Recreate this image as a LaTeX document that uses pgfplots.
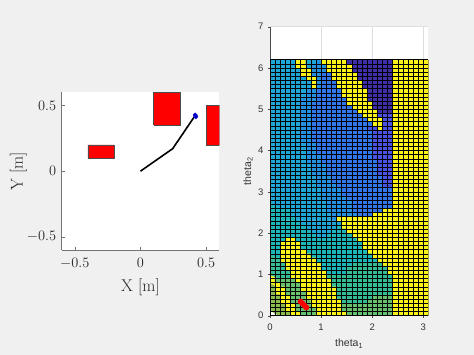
\documentclass[border=0pt]{standalone}
\usepackage{pgfplots}
\pgfplotsset{compat=1.18}
\usepackage{fontspec}
\newfontfamily\arialf{Liberation Sans}
\definecolor{figbg}{RGB}{240,240,240}
\begin{document}
\begin{tikzpicture}[x=1pt,y=1pt]
\fill[figbg] (0,0) rectangle (474,355);
% ---------------- workspace ----------------
\begin{axis}[at={(61.7pt,105pt)}, anchor=south west, scale only axis,
  width=157.6pt, height=157.7pt,
  xmin=-0.6, xmax=0.6, ymin=-0.6, ymax=0.6,
  axis x line*=bottom, axis y line*=left,
  axis line style={-, black!55},
  every outer x axis line/.append style={-},
  every outer y axis line/.append style={-},
  xtick={-0.5,0,0.5}, ytick={-0.5,0,0.5},
  tick align=inside, major tick length=3pt, tick style={black!55},
  axis background/.style={fill=white},
  tick label style={font=\fontsize{14.5}{17}\selectfont, text=black!85},
  xticklabel style={yshift=-5pt}, yticklabel style={xshift=-2pt},
  xlabel={X [m]}, ylabel={Y [m]},
  label style={font=\fontsize{17}{20}\selectfont, text=black!85},
  xlabel style={at={([yshift=-42pt]axis description cs:0.5,0)}, anchor=base},
  ylabel style={at={([xshift=-39pt]axis description cs:0,0.5)}, anchor=base},
]
\addplot[fill=red, draw=black!70, line width=0.4pt] coordinates {(-0.4,0.1) (-0.2,0.1) (-0.2,0.2) (-0.4,0.2) (-0.4,0.1)};
\addplot[fill=red, draw=black!70, line width=0.4pt] coordinates {(0.1,0.35) (0.3,0.35) (0.3,0.6) (0.1,0.6) (0.1,0.35)};
\addplot[fill=red, draw=black!70, line width=0.4pt] coordinates {(0.5,0.2) (0.6,0.2) (0.6,0.5) (0.5,0.5) (0.5,0.2)};
\addplot[black, line width=1.6pt] coordinates {(0,0) (0.245,0.171) (0.418,0.426)};
\addplot[blue!80!black, line width=1.2pt, mark=*, mark size=1.6pt] coordinates {(0.422,0.413) (0.419,0.420) (0.416,0.428)};
\end{axis}
% ---------------- configuration space ----------------
\begin{axis}[at={(270pt,39.3pt)}, anchor=south west, scale only axis,
  width=158.4pt, height=289pt,
  xmin=0, xmax=3.1, ymin=0, ymax=7,
  axis x line*=bottom, axis y line*=left,
  axis line style={-, black!70},
  every outer x axis line/.append style={-},
  every outer y axis line/.append style={-},
  xtick={0,1,2,3}, ytick={0,1,2,3,4,5,6,7},
  grid=major, major grid style={black!13},
  tick align=outside, major tick length=2pt, tick style={black!70},
  axis background/.style={fill=white},
  /pgf/number format/assume math mode=true,
  tick label style={font=\arialf\fontsize{9.5}{11}\selectfont, text=black!80},
  xticklabel style={yshift=-3pt}, yticklabel style={xshift=-1pt},
  xlabel={theta\textsubscript{1}}, ylabel={theta\textsubscript{2}},
  label style={font=\arialf\fontsize{10.5}{12}\selectfont, text=black!80},
  xlabel style={at={([yshift=-30.8pt]axis description cs:0.5,0)}, anchor=base},
  ylabel style={at={([xshift=-19pt]axis description cs:0,0.5)}, anchor=base},
  colormap={cspace}{rgb255=(62,46,168) rgb255=(74,82,228) rgb255=(50,118,236) rgb255=(36,144,226) rgb255=(30,166,214) rgb255=(26,182,186) rgb255=(52,188,150) rgb255=(102,192,110) rgb255=(138,186,78) rgb255=(250,242,25)},
  point meta min=0, point meta max=9,
]
\addplot[matrix plot*, mesh/cols=31, mesh/ordering=x varies, point meta=explicit]
  table[row sep=\\, x expr={0.05+0.1*mod(\coordindex,31)}, y expr={6.15-0.1*floor(\coordindex/31)}, meta=c] {
c\\
4\\4\\4\\4\\4\\9\\9\\4\\4\\3\\9\\9\\9\\9\\9\\0\\0\\0\\0\\0\\0\\0\\0\\0\\9\\9\\9\\9\\9\\9\\9\\
4\\4\\4\\4\\4\\9\\9\\4\\3\\3\\3\\9\\9\\9\\9\\9\\0\\0\\0\\0\\0\\0\\0\\0\\9\\9\\9\\9\\9\\9\\9\\
4\\4\\4\\4\\4\\4\\9\\9\\3\\3\\3\\9\\9\\9\\9\\9\\0\\0\\0\\0\\0\\0\\0\\0\\9\\9\\9\\9\\9\\9\\9\\
4\\4\\4\\4\\4\\4\\9\\9\\3\\3\\2\\2\\9\\9\\9\\9\\9\\0\\0\\0\\0\\0\\0\\0\\9\\9\\9\\9\\9\\9\\9\\
4\\4\\4\\4\\4\\4\\4\\9\\9\\3\\2\\2\\9\\9\\9\\9\\9\\0\\0\\0\\0\\0\\0\\0\\9\\9\\9\\9\\9\\9\\9\\
4\\4\\4\\4\\4\\4\\4\\4\\9\\3\\2\\2\\2\\9\\9\\9\\9\\9\\0\\0\\0\\0\\0\\0\\9\\9\\9\\9\\9\\9\\9\\
4\\4\\4\\4\\4\\4\\4\\4\\9\\3\\2\\2\\2\\9\\9\\9\\9\\9\\0\\0\\0\\0\\0\\0\\9\\9\\9\\9\\9\\9\\9\\
4\\4\\4\\4\\4\\4\\4\\3\\3\\2\\2\\2\\2\\2\\9\\9\\9\\9\\9\\0\\0\\0\\0\\0\\9\\9\\9\\9\\9\\9\\9\\
4\\4\\4\\4\\4\\4\\4\\3\\3\\2\\2\\2\\2\\2\\9\\9\\9\\9\\9\\0\\0\\0\\0\\0\\9\\9\\9\\9\\9\\9\\9\\
4\\4\\4\\4\\4\\4\\3\\3\\3\\2\\2\\2\\2\\2\\2\\9\\9\\9\\9\\0\\0\\0\\0\\0\\9\\9\\9\\9\\9\\9\\9\\
4\\4\\4\\4\\4\\4\\3\\3\\2\\2\\2\\2\\2\\2\\2\\9\\9\\9\\9\\9\\0\\0\\0\\0\\9\\9\\9\\9\\9\\9\\9\\
4\\4\\4\\4\\4\\4\\3\\3\\2\\2\\2\\2\\2\\2\\2\\2\\9\\9\\9\\9\\0\\0\\0\\0\\9\\9\\9\\9\\9\\9\\9\\
4\\4\\4\\4\\4\\4\\3\\3\\2\\2\\2\\2\\2\\2\\2\\2\\2\\9\\9\\9\\9\\0\\0\\0\\9\\9\\9\\9\\9\\9\\9\\
4\\4\\4\\4\\4\\4\\3\\3\\2\\2\\2\\2\\2\\2\\2\\2\\2\\2\\9\\9\\9\\1\\1\\1\\9\\9\\9\\9\\9\\9\\9\\
4\\4\\4\\4\\4\\4\\3\\3\\2\\2\\2\\2\\2\\2\\2\\2\\2\\2\\2\\9\\9\\9\\1\\1\\9\\9\\9\\9\\9\\9\\9\\
4\\4\\4\\4\\4\\4\\3\\3\\2\\2\\2\\2\\2\\2\\2\\2\\2\\2\\2\\2\\9\\9\\1\\1\\9\\9\\9\\9\\9\\9\\9\\
4\\4\\4\\4\\4\\4\\3\\3\\2\\2\\2\\2\\2\\2\\2\\2\\2\\2\\2\\1\\1\\9\\1\\1\\9\\9\\9\\9\\9\\9\\9\\
4\\4\\4\\4\\4\\4\\3\\3\\2\\2\\2\\2\\2\\2\\2\\2\\2\\2\\2\\2\\1\\1\\1\\1\\9\\9\\9\\9\\9\\9\\9\\
4\\4\\4\\4\\4\\4\\3\\3\\2\\2\\2\\2\\2\\2\\2\\2\\2\\2\\2\\2\\1\\1\\1\\1\\9\\9\\9\\9\\9\\9\\9\\
4\\4\\4\\4\\4\\4\\3\\3\\2\\2\\2\\2\\2\\2\\2\\2\\2\\2\\2\\2\\1\\1\\1\\1\\9\\9\\9\\9\\9\\9\\9\\
4\\4\\4\\4\\4\\4\\4\\3\\3\\2\\2\\2\\2\\2\\2\\2\\2\\2\\2\\2\\1\\1\\1\\1\\9\\9\\9\\9\\9\\9\\9\\
4\\4\\4\\4\\4\\4\\4\\3\\3\\2\\2\\2\\2\\2\\2\\2\\2\\2\\2\\2\\1\\1\\1\\1\\9\\9\\9\\9\\9\\9\\9\\
4\\4\\4\\4\\4\\4\\4\\3\\3\\2\\2\\2\\2\\2\\2\\2\\2\\2\\2\\2\\1\\1\\1\\1\\9\\9\\9\\9\\9\\9\\9\\
4\\4\\4\\4\\4\\4\\4\\3\\3\\3\\2\\2\\2\\2\\2\\2\\2\\2\\2\\2\\1\\1\\1\\1\\9\\9\\9\\9\\9\\9\\9\\
4\\4\\4\\4\\4\\4\\4\\3\\3\\3\\2\\2\\2\\2\\2\\2\\2\\2\\2\\2\\2\\1\\1\\1\\9\\9\\9\\9\\9\\9\\9\\
4\\4\\4\\4\\4\\4\\4\\4\\3\\3\\3\\2\\2\\2\\2\\2\\2\\2\\2\\2\\2\\1\\1\\1\\9\\9\\9\\9\\9\\9\\9\\
4\\4\\4\\4\\4\\4\\4\\4\\3\\3\\3\\2\\2\\2\\2\\2\\2\\2\\2\\2\\2\\1\\1\\1\\9\\9\\9\\9\\9\\9\\9\\
4\\4\\4\\4\\4\\4\\4\\4\\3\\3\\3\\2\\2\\2\\2\\2\\2\\2\\2\\2\\2\\1\\1\\1\\9\\9\\9\\9\\9\\9\\9\\
4\\4\\4\\4\\4\\4\\4\\4\\4\\3\\3\\3\\2\\2\\2\\2\\2\\2\\2\\2\\2\\2\\1\\1\\9\\9\\9\\9\\9\\9\\9\\
4\\4\\4\\4\\4\\4\\4\\4\\4\\3\\3\\3\\2\\2\\2\\2\\2\\2\\2\\2\\2\\2\\1\\1\\9\\9\\9\\9\\9\\9\\9\\
4\\4\\4\\4\\4\\4\\4\\4\\4\\3\\3\\3\\3\\2\\2\\2\\2\\2\\2\\2\\2\\2\\1\\1\\9\\9\\9\\9\\9\\9\\9\\
4\\4\\4\\4\\4\\4\\4\\4\\4\\4\\3\\3\\3\\3\\2\\2\\2\\2\\2\\2\\2\\2\\2\\2\\9\\9\\9\\9\\9\\9\\9\\
4\\4\\4\\4\\4\\4\\4\\4\\4\\4\\3\\3\\3\\3\\2\\2\\2\\2\\2\\2\\2\\2\\2\\2\\9\\9\\9\\9\\9\\9\\9\\
4\\4\\4\\4\\4\\4\\4\\4\\4\\4\\3\\3\\3\\3\\3\\2\\2\\2\\2\\2\\2\\2\\2\\2\\9\\9\\9\\9\\9\\9\\9\\
4\\4\\4\\4\\4\\4\\4\\4\\4\\4\\4\\3\\3\\3\\3\\3\\2\\2\\2\\2\\2\\2\\2\\2\\9\\9\\9\\9\\9\\9\\9\\
4\\4\\4\\4\\4\\4\\4\\4\\4\\4\\4\\3\\3\\3\\3\\3\\2\\2\\2\\2\\2\\2\\2\\2\\9\\9\\9\\9\\9\\9\\9\\
5\\5\\5\\5\\4\\4\\4\\4\\4\\4\\4\\3\\3\\3\\3\\3\\2\\2\\2\\2\\2\\2\\9\\9\\9\\9\\9\\9\\9\\9\\9\\
5\\5\\5\\5\\4\\4\\4\\4\\4\\4\\4\\4\\3\\3\\3\\3\\3\\2\\2\\2\\9\\9\\9\\9\\9\\9\\9\\9\\9\\9\\9\\
5\\5\\5\\5\\5\\4\\4\\4\\4\\4\\4\\4\\3\\9\\9\\9\\9\\9\\9\\9\\9\\9\\9\\9\\9\\9\\9\\9\\9\\9\\9\\
5\\5\\5\\5\\5\\5\\4\\4\\4\\4\\4\\4\\4\\4\\9\\9\\9\\9\\9\\9\\9\\9\\9\\9\\9\\9\\9\\9\\9\\9\\9\\
5\\5\\5\\5\\5\\5\\5\\4\\4\\4\\4\\4\\4\\5\\9\\9\\9\\9\\9\\9\\9\\9\\9\\9\\9\\9\\9\\9\\9\\9\\9\\
5\\5\\5\\5\\5\\5\\5\\5\\4\\4\\4\\4\\5\\5\\5\\9\\9\\9\\9\\9\\9\\9\\9\\9\\9\\9\\9\\9\\9\\9\\9\\
5\\5\\5\\5\\5\\5\\5\\5\\5\\4\\4\\5\\5\\5\\5\\5\\9\\9\\9\\9\\9\\9\\9\\9\\9\\9\\9\\9\\9\\9\\9\\
5\\5\\5\\9\\9\\5\\5\\5\\5\\5\\5\\5\\5\\5\\5\\5\\5\\9\\9\\9\\9\\9\\9\\9\\9\\9\\9\\9\\9\\9\\9\\
5\\5\\9\\9\\9\\9\\5\\5\\5\\5\\5\\5\\5\\5\\5\\5\\5\\5\\9\\9\\9\\9\\9\\9\\9\\9\\9\\9\\9\\9\\9\\
5\\5\\9\\9\\9\\9\\5\\5\\5\\5\\5\\5\\5\\5\\5\\5\\5\\5\\9\\9\\9\\9\\9\\9\\9\\9\\9\\9\\9\\9\\9\\
5\\5\\9\\9\\9\\9\\9\\5\\5\\5\\5\\5\\5\\5\\5\\5\\5\\5\\5\\9\\9\\9\\9\\9\\9\\9\\9\\9\\9\\9\\9\\
5\\5\\9\\9\\9\\9\\9\\9\\5\\5\\5\\5\\5\\5\\5\\5\\5\\5\\5\\5\\9\\9\\9\\9\\9\\9\\9\\9\\9\\9\\9\\
6\\6\\9\\9\\9\\9\\9\\9\\9\\5\\5\\5\\5\\5\\5\\5\\5\\5\\5\\5\\5\\9\\9\\9\\9\\9\\9\\9\\9\\9\\9\\
6\\6\\6\\9\\9\\9\\9\\9\\9\\9\\5\\5\\5\\5\\5\\5\\6\\6\\6\\6\\6\\6\\9\\9\\9\\9\\9\\9\\9\\9\\9\\
6\\6\\6\\9\\9\\9\\9\\9\\9\\9\\5\\5\\5\\5\\5\\6\\6\\6\\6\\6\\6\\6\\6\\9\\9\\9\\9\\9\\9\\9\\9\\
6\\6\\6\\6\\9\\9\\9\\9\\9\\9\\9\\5\\5\\5\\5\\6\\6\\6\\6\\6\\6\\6\\6\\9\\9\\9\\9\\9\\9\\9\\9\\
6\\6\\6\\6\\9\\9\\9\\9\\9\\9\\9\\6\\6\\6\\6\\6\\6\\6\\6\\6\\6\\6\\6\\6\\9\\9\\9\\9\\9\\9\\9\\
9\\7\\7\\7\\7\\9\\9\\9\\9\\9\\9\\9\\6\\6\\6\\6\\6\\6\\6\\6\\6\\6\\6\\6\\9\\9\\9\\9\\9\\9\\9\\
9\\9\\7\\7\\7\\7\\9\\9\\9\\9\\9\\9\\6\\6\\6\\6\\6\\6\\6\\6\\6\\6\\6\\6\\9\\9\\9\\9\\9\\9\\9\\
8\\9\\9\\7\\7\\7\\9\\9\\9\\9\\9\\9\\9\\6\\6\\6\\6\\6\\6\\6\\6\\6\\6\\6\\9\\9\\9\\9\\9\\9\\9\\
8\\9\\9\\7\\7\\7\\7\\9\\9\\9\\9\\9\\9\\6\\6\\6\\6\\6\\6\\6\\6\\6\\6\\6\\9\\9\\9\\9\\9\\9\\9\\
8\\8\\9\\9\\7\\7\\7\\9\\9\\9\\9\\9\\9\\6\\6\\6\\6\\6\\6\\6\\7\\7\\7\\7\\9\\9\\9\\9\\9\\9\\9\\
8\\8\\9\\9\\7\\7\\7\\7\\9\\9\\9\\9\\9\\9\\6\\6\\6\\6\\6\\7\\7\\7\\7\\7\\9\\9\\9\\9\\9\\9\\9\\
8\\8\\8\\9\\9\\7\\7\\7\\9\\9\\9\\9\\9\\9\\7\\7\\7\\7\\7\\7\\7\\7\\7\\7\\9\\9\\9\\9\\9\\9\\9\\
8\\8\\8\\9\\9\\7\\7\\7\\7\\9\\9\\9\\9\\9\\7\\7\\7\\7\\7\\7\\7\\7\\7\\7\\9\\9\\9\\9\\9\\9\\9\\
8\\8\\8\\8\\9\\9\\7\\7\\7\\9\\9\\9\\9\\9\\9\\7\\7\\7\\7\\7\\7\\7\\7\\7\\9\\9\\9\\9\\9\\9\\9\\
};
% cell borders of the grid
\pgfplotsinvokeforeach{0,...,62}{\draw[black, line width=0.45pt] (axis cs:0,#1*0.1) -- (axis cs:3.1,#1*0.1);}
\pgfplotsinvokeforeach{0,...,31}{\draw[black, line width=0.45pt] (axis cs:#1*0.1,0) -- (axis cs:#1*0.1,6.2);}
\addplot[red, line width=1.5pt, mark=*, mark size=2.2pt] coordinates {(0.60,0.34) (0.64,0.29) (0.68,0.24) (0.71,0.20)};
\end{axis}
\end{tikzpicture}
\end{document}
